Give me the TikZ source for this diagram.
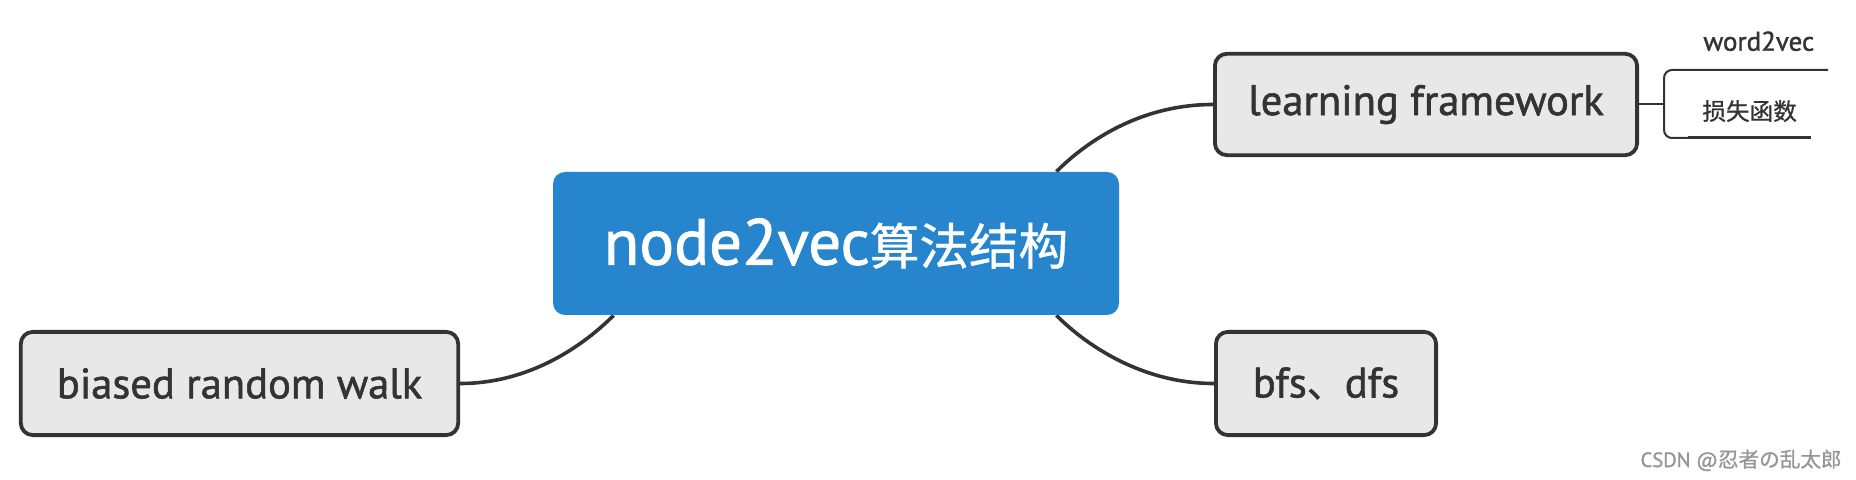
\documentclass[tikz,border=0pt]{standalone}
\usepackage{fontspec}
\setmainfont{PT Sans}[FakeBold=1.3]
\newfontfamily\cjk{Noto Sans CJK SC}[FakeBold=0.9]
\usetikzlibrary{calc,backgrounds}
\definecolor{cblue}{RGB}{38,133,205}
\definecolor{boxfill}{RGB}{232,232,232}
\definecolor{ink}{RGB}{51,51,51}
\definecolor{wm}{RGB}{150,150,150}
\newcommand{\fsz}[1]{\fontsize{#1}{#1}\selectfont}
\begin{document}
\begin{tikzpicture}[x=0.5pt,y=-0.5pt,
  topicbox/.style={draw=ink, line width=1.9pt, fill=boxfill, rounded corners=6pt, inner sep=0pt, text=ink},
  centerbox/.style={fill=cblue, rounded corners=6pt, inner sep=0pt, text=white, minimum width=283pt, minimum height=71.5pt},
  branch/.style={draw=ink, line width=1.8pt},
  subbranch/.style={draw=ink, line width=1pt},
  subline/.style={draw=ink, line width=1.5pt},
  leaf/.style={inner sep=0pt, text=ink, anchor=base west},
  wmark/.style={inner sep=0pt, text=wm, anchor=base east}]
\useasboundingbox (0,0) rectangle (1856,480);

\node[centerbox] (c) at (836,243.5) {{\fsz{32.5}node2vec}{\cjk\fsz{24.8}算法结构}};
\node[topicbox, minimum width=211.1pt, minimum height=50.7pt] (lf) at (1426,104.5) {\fsz{21.3}learning framework};
\node[topicbox, minimum width=110.1pt, minimum height=51.6pt] (bd) at (1326,383.5) {\fsz{21.3}bfs{\cjk\fsz{19}、}dfs};
\node[topicbox, minimum width=218.7pt, minimum height=51.6pt] (br) at (239.5,383.5) {\fsz{21.3}biased random walk};

\node[leaf] (w2v) at (1703,50.7) {\fsz{13.5}word2vec};
\node[leaf] (loss) at (1702,120) {\cjk\fsz{11.8}损失函数};

\coordinate (bk) at ($(lf.east)+(25,0)$);
\coordinate (w2vu) at (1828,70);
\coordinate (lossa) at (1688,138);
\coordinate (lossu) at (1811,138);

\begin{pgfonlayer}{background}
\fill[white] (0,0) rectangle (1856,480);
\draw[branch] ($(c.north east)+(-63,0)$) .. controls +(30,-30) and +(-73,0) .. (lf.west);
\draw[branch] ($(c.south east)+(-63,0)$) .. controls +(30,30) and +(-72,0) .. (bd.west);
\draw[branch] ($(c.south west)+(61,0)$) .. controls +(-30,30) and +(70,0) .. (br.east);
\end{pgfonlayer}

\draw[subbranch] (lf.east) -- (bk);
\draw[subbranch, rounded corners=4pt] (w2vu) -- (bk |- w2vu) -- (bk |- lossa) -- (lossa);
\draw[subline] (lossa) -- (lossu);

\node[wmark] (wmk) at (1842,467) {\fsz{10.3}CSDN @{\cjk 忍者の乱太郎}};
\end{tikzpicture}
\end{document}
